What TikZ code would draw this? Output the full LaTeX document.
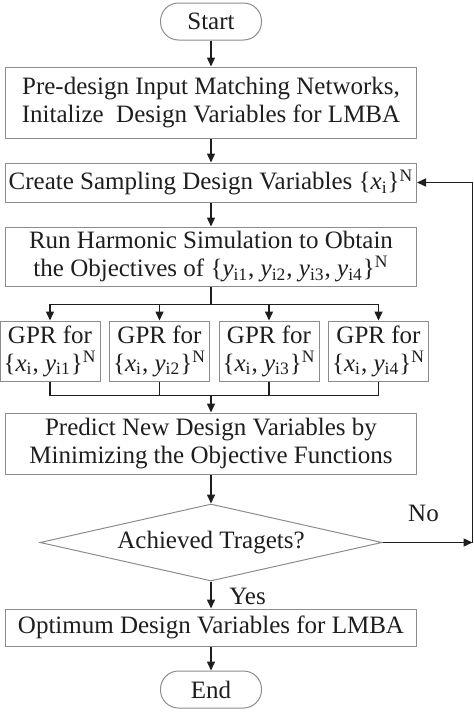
\documentclass[tikz,border=0pt]{standalone}
\usepackage{fontspec}
\setmainfont{Liberation Serif}
\usetikzlibrary{positioning, arrows.meta, calc, shapes.geometric}
\definecolor{FlowInk}{HTML}{1E1E1E}
\definecolor{FlowLine}{HTML}{8C8C8C}
\newcommand{\vx}{\textit{x}\textsubscript{i}}
\newcommand{\vy}[1]{\textit{y}\textsubscript{i#1}}
\tikzset{
  stepbox/.style  = {draw=FlowLine, line width=0.5pt, rectangle, align=center,
                     font=\fontsize{12.5}{14}\selectfont, text=FlowInk,
                     inner sep=0pt, minimum width=205.5pt},
  gprbox/.style   = {stepbox, minimum width=50pt, minimum height=30pt},
  termbox/.style  = {stepbox, rounded corners=9pt, minimum width=50.5pt,
                     minimum height=18.5pt},
  decbox/.style   = {stepbox, diamond, aspect=4.4, minimum width=171pt,
                     minimum height=38.5pt},
  flowarr/.style  = {-{Triangle[length=4.5pt, width=4pt]}, FlowInk, line width=0.75pt},
  flowline/.style = {FlowInk, line width=0.75pt},
  flowlbl/.style  = {font=\fontsize{12.5}{14}\selectfont, text=FlowInk, inner sep=0pt},
}
\begin{document}
\begin{tikzpicture}
  \useasboundingbox (0,0) rectangle (237pt,-356pt);
  \node[termbox] (start) at (105.5pt,-10.75pt) {Start};
  \node[stepbox, minimum height=35.5pt, below=13pt of start] (init)
    {Pre-design Input Matching Networks,\\Initalize\ \ Design Variables for LMBA};
  \node[stepbox, minimum height=19.5pt, below=12pt of init] (samp)
    {Create Sampling Design Variables \{\vx\}\textsuperscript{N}};
  \node[stepbox, minimum height=29.5pt, below=12pt of samp] (run)
    {Run Harmonic Simulation to Obtain\\the Objectives of \{\vy{1}, \vy{2}, \vy{3}, \vy{4}\}\textsuperscript{N}};
  \coordinate[below=9pt of run] (fk);
  % four GPR models
  \node[gprbox, below=8pt of fk, xshift=-80.5pt] (g1) {GPR for\\\{\vx, \vy{1}\}\textsuperscript{N}};
  \node[gprbox, right=4.25pt of g1] (g2) {GPR for\\\{\vx, \vy{2}\}\textsuperscript{N}};
  \node[gprbox, right=4.25pt of g2] (g3) {GPR for\\\{\vx, \vy{3}\}\textsuperscript{N}};
  \node[gprbox, right=4.25pt of g3] (g4) {GPR for\\\{\vx, \vy{4}\}\textsuperscript{N}};
  \coordinate (mg) at ([yshift=-7pt]g1.south -| run.south);
  \node[stepbox, minimum height=30.5pt, below=8.5pt of mg] (pred)
    {Predict New Design Variables by\\Minimizing the Objective Functions};
  \node[decbox, below=14.5pt of pred] (dec) {Achieved Tragets?};
  \node[stepbox, minimum height=18.5pt, below=13.5pt of dec] (opt)
    {Optimum Design Variables for LMBA};
  \node[termbox, below=12pt of opt] (end) {End};
  \coordinate (lp) at ([xshift=45pt]dec.east);
  \node[flowlbl] (no) at ([xshift=20.5pt, yshift=14.5pt]dec.east) {No};
  \node[flowlbl, anchor=west] (yes) at ([xshift=9pt, yshift=-7.5pt]dec.south) {Yes};
  % connectors
  \draw[flowarr] (start) -- (init);
  \draw[flowarr] (init) -- (samp);
  \draw[flowarr] (samp) -- (run);
  \draw[flowline] (run) -- (fk);
  \foreach \g in {g1, g2, g3, g4} {
    \draw[flowarr] (fk) -| (\g.north);
    \draw[flowline] (\g.south) |- (mg);
  }
  \draw[flowarr] (mg) -- (pred);
  \draw[flowarr] (pred) -- (dec);
  \draw[flowarr] (dec) -- (opt);
  \draw[flowarr] (opt) -- (end);
  \draw[flowarr] (dec.east) -- (lp);
  \draw[flowarr] (lp) |- (samp.east);
\end{tikzpicture}
\end{document}
